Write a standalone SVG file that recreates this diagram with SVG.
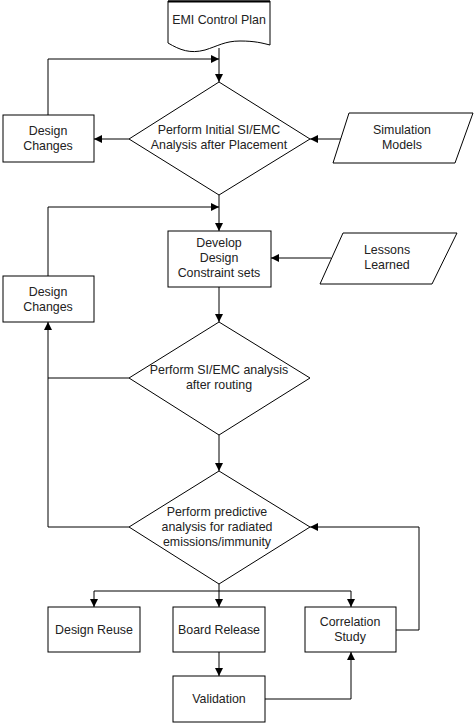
<svg xmlns="http://www.w3.org/2000/svg" width="474" height="723" viewBox="0 0 474 723">
<style>
.s{fill:#fff;stroke:#000;stroke-width:1}
.c{fill:none;stroke:#000;stroke-width:1}
text{font-family:"Liberation Sans",Arial,sans-serif;font-size:12.4px;fill:#222;text-anchor:middle}
</style>
<defs>
<marker id="a" markerUnits="userSpaceOnUse" markerWidth="8" markerHeight="8" refX="8" refY="4" orient="auto">
<path d="M0,0 L8,4 L0,8 z" fill="#000"/>
</marker>
</defs>
<rect width="474" height="723" fill="#fff"/>
<g id="connectors">
<path class="c" d="M219,48 V82" marker-end="url(#a)"/>
<path class="c" d="M48,115 V59 H219" marker-end="url(#a)"/>
<path class="c" d="M129,139 H94" marker-end="url(#a)"/>
<path class="c" d="M341,139 H310" marker-end="url(#a)"/>
<path class="c" d="M219,195 V231" marker-end="url(#a)"/>
<path class="c" d="M48,276 V207 H219" marker-end="url(#a)"/>
<path class="c" d="M331,258 H271" marker-end="url(#a)"/>
<path class="c" d="M219,287 V322" marker-end="url(#a)"/>
<path class="c" d="M129,378 H48"/>
<path class="c" d="M129,527 H48 V322" marker-end="url(#a)"/>
<path class="c" d="M219,435 V471" marker-end="url(#a)"/>
<path class="c" d="M396,630 H419 V527 H310" marker-end="url(#a)"/>
<path class="c" d="M219,584 V607" marker-end="url(#a)"/>
<path class="c" d="M219,591 H94 V607" marker-end="url(#a)"/>
<path class="c" d="M219,591 H351 V607" marker-end="url(#a)"/>
<path class="c" d="M219,652 V676" marker-end="url(#a)"/>
<path class="c" d="M265,699 H351 V652" marker-end="url(#a)"/>
</g>
<g id="emi-plan">
<path class="s" d="M168,1 H270 V45 C262,43 255,41 240,41 C225,41 218,46 205,50 C190,54 180,50 168,43 Z"/>
<path d="M168,1.5 H270" stroke="#000" stroke-width="2"/>
<text x="219" y="24">EMI Control Plan</text>
</g>
<g id="initial-analysis">
<path class="s" d="M219,82 L310,139 L219,195 L129,139 Z"/>
<text x="219" y="134">Perform Initial SI/EMC</text>
<text x="219" y="149">Analysis after Placement</text>
</g>
<g id="design-changes-1">
<rect class="s" x="3" y="115" width="91" height="47"/>
<text x="48" y="135">Design</text>
<text x="48" y="150">Changes</text>
</g>
<g id="simulation-models">
<path class="s" d="M349,113 H473 L455,163 H333 Z"/>
<text x="402" y="134">Simulation</text>
<text x="402" y="149">Models</text>
</g>
<g id="develop-constraints">
<rect class="s" x="168" y="231" width="103" height="56"/>
<text x="219" y="247">Develop</text>
<text x="219" y="262">Design</text>
<text x="219" y="277">Constraint sets</text>
</g>
<g id="lessons-learned">
<path class="s" d="M343,233 H457 L432,284 H320 Z"/>
<text x="387" y="254">Lessons</text>
<text x="387" y="269">Learned</text>
</g>
<g id="design-changes-2">
<rect class="s" x="3" y="276" width="91" height="46"/>
<text x="48" y="296">Design</text>
<text x="48" y="311">Changes</text>
</g>
<g id="routing-analysis">
<path class="s" d="M219,322 L310,378 L219,435 L129,378 Z"/>
<text x="219" y="374">Perform SI/EMC analysis</text>
<text x="219" y="389">after routing</text>
</g>
<g id="predictive-analysis">
<path class="s" d="M219,471 L310,527 L219,584 L129,527 Z"/>
<text x="217" y="516">Perform predictive</text>
<text x="217" y="531">analysis for radiated</text>
<text x="217" y="546">emissions/immunity</text>
</g>
<g id="design-reuse">
<rect class="s" x="48" y="607" width="92" height="45"/>
<text x="94" y="634">Design Reuse</text>
</g>
<g id="board-release">
<rect class="s" x="173" y="607" width="92" height="45"/>
<text x="219" y="634">Board Release</text>
</g>
<g id="correlation-study">
<rect class="s" x="305" y="607" width="91" height="45"/>
<text x="350" y="626">Correlation</text>
<text x="350" y="641">Study</text>
</g>
<g id="validation">
<rect class="s" x="173" y="676" width="92" height="46"/>
<text x="219" y="703">Validation</text>
</g>
</svg>
